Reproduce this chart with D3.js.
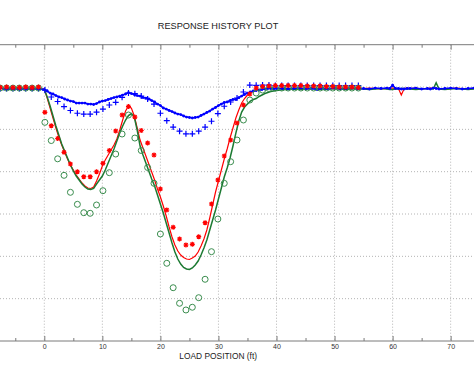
<!DOCTYPE html>
<html><head><meta charset="utf-8">
<script src="https://cdn.jsdelivr.net/npm/d3@7"></script>
<style>html,body{margin:0;padding:0;background:#fff;} svg{display:block;}</style>
</head><body><svg id="c" width="474" height="379"></svg>
<script>
// ---------- DATA ----------
const titleText = "RESPONSE HISTORY PLOT";
const xLabelText = "LOAD POSITION (ft)";
const xMajorTicks = [0,10,20,30,40,50,60,70];
const xMinorTicks = [-5,5,15,25,35,45,55,65];
const yGridValues = [-50,-40,-30,-20,-10,0];

// measured (dense) load positions, ft
const measX = [-7,-6,-5,-4,-3,-2,-1,
0,0.5,1,1.5,2,2.5,3,3.5,4,4.5,5,5.5,6,6.5,7,7.5,8,8.5,9,9.5,10,10.5,11,11.5,12,12.5,13,13.5,14,14.5,15,15.5,16,16.5,17,17.5,18,18.5,19,19.5,20,20.5,21,21.5,22,22.5,23,23.5,24,24.5,25,25.5,26,26.5,27,27.5,28,28.5,29,29.5,30,30.5,31,31.5,32,32.5,33,33.5,34,34.5,35,35.5,36,36.5,37,37.5,38,38.5,39,39.5,40,
41,42,43,44,45,46,47,48,49,50,51,52,53,54,55,56,57,58,59,59.5,60,60.5,61,61.5,62,62.5,63,64,65,66,66.5,67,67.5,68,69,70,71,72,73,74];

const measBlue = [-0.47,-0.35,-0.47,-0.59,-0.35,-0.47,-0.47,
-0.59,-0.94,-1.42,-1.65,-2.01,-2.36,-2.48,-2.83,-3.07,-3.31,-3.43,-3.78,-3.78,-3.78,-3.78,-4.02,-4.02,-4.13,-3.90,-3.54,-3.31,-3.19,-2.95,-2.72,-2.48,-2.36,-2.13,-1.89,-1.65,-1.30,-1.54,-1.77,-2.01,-2.13,-2.48,-2.60,-2.83,-3.19,-3.54,-4.02,-4.37,-4.96,-5.20,-5.55,-5.79,-6.14,-6.38,-6.50,-6.85,-7.09,-7.20,-7.32,-7.20,-7.09,-6.73,-6.38,-6.02,-5.67,-5.20,-4.84,-4.37,-4.02,-3.66,-3.54,-3.19,-2.95,-2.95,-2.48,-2.13,-1.77,-1.42,-1.18,-0.94,-0.83,-0.71,-0.59,-0.47,-0.35,-0.35,-0.47,-0.35,
-0.35,-0.47,-0.35,-0.24,-0.47,-0.35,-0.59,-0.35,-0.47,-0.24,-0.47,-0.35,-0.24,-0.47,-0.35,-0.47,-0.24,-0.35,-0.24,-0.35,0.47,-0.35,-0.35,-0.47,-0.47,-0.35,-0.35,-0.24,-0.47,-0.35,-0.47,-0.24,-0.35,-0.47,-0.35,-0.24,-0.35,-0.47,-0.35,-0.24];

const measRed = [-0.35,-0.24,-0.35,-0.24,-0.35,-0.24,-0.35,
-0.47,-2.60,-4.96,-7.32,-9.68,-11.81,-13.70,-15.35,-17.01,-18.42,-19.60,-20.79,-21.73,-22.68,-23.38,-23.86,-23.97,-23.62,-22.20,-20.55,-18.66,-17.24,-16.06,-14.88,-13.70,-12.29,-10.16,-7.80,-5.67,-4.49,-4.96,-6.85,-9.68,-12.52,-14.41,-16.30,-18.19,-20.08,-21.97,-24.09,-25.98,-28.11,-30.47,-33.07,-35.43,-37.32,-38.74,-39.68,-40.27,-40.63,-40.74,-40.39,-39.92,-38.97,-37.56,-35.90,-33.78,-30.94,-27.87,-24.80,-22.20,-19.60,-17.01,-14.64,-12.05,-9.68,-7.32,-5.43,-3.78,-2.72,-1.89,-1.42,-1.06,-0.83,-0.71,-0.59,-0.47,-0.35,-0.35,-0.24,-0.35,
-0.24,-0.35,-0.24,-0.35,-0.47,-0.24,-0.35,-0.24,-0.35,-0.47,-0.35,-0.24,-0.35,-0.47,-0.35,-0.24,-0.35,-0.47,-0.35,-0.24,-0.24,-0.35,-0.35,-1.89,-0.35,-0.24,-0.35,-0.24,-0.47,-0.35,-0.24,-0.24,-0.35,-0.35,-0.47,-0.35,-0.24,-0.35,-0.47,-0.35];

const measGreen = [-0.47,-0.59,-0.47,-0.35,-0.47,-0.59,-0.47,
-0.59,-2.36,-4.49,-6.85,-9.21,-11.34,-13.46,-15.12,-16.77,-18.42,-19.84,-21.02,-21.97,-22.91,-23.62,-24.09,-24.21,-23.97,-22.91,-21.97,-21.02,-19.60,-17.95,-16.30,-14.64,-12.76,-10.87,-9.21,-7.80,-6.73,-6.26,-7.09,-10.16,-13.94,-16.06,-17.95,-19.84,-21.73,-23.38,-25.51,-27.64,-29.76,-32.12,-34.49,-36.85,-38.97,-40.63,-41.81,-42.64,-42.99,-43.11,-42.75,-42.04,-41.10,-39.68,-38.03,-36.14,-33.78,-31.41,-29.05,-26.45,-23.86,-21.26,-19.13,-16.77,-13.94,-10.87,-8.03,-5.91,-4.72,-4.02,-3.31,-2.95,-2.72,-2.24,-1.89,-1.54,-1.30,-1.06,-0.94,-0.83,
-0.66,-0.54,-0.47,-0.59,-0.47,-0.35,-0.47,-0.59,-0.47,-0.35,-0.47,-0.59,-0.47,-0.35,-0.47,-0.59,-0.47,-0.35,-0.47,-0.59,-0.59,-0.47,-0.47,-0.35,-0.35,-0.47,-0.47,-0.59,-0.47,-0.35,-0.47,-0.47,1.02,-0.47,-0.59,-0.47,-0.35,-0.47,-0.59,-0.47];

// model (marker) load positions, ft
const markX = [-7.6,-6.5,-5.4,-4.3,-3.2,-2.1,-1.0,0.1,1.2,2.3,3.4,4.5,5.7,6.8,7.9,9.0,10.1,11.2,12.3,13.4,14.5,15.6,16.7,17.8,18.9,20.0,21.1,22.2,23.3,24.4,25.5,26.6,27.7,28.8,29.9,31.0,32.1,33.2,34.3,35.4,36.5,37.6,38.7,39.8,40.9,42.0,43.1,44.2,45.3,46.4,47.5,48.6,49.7,50.8,51.9,53.0,54.1];

const modelBlue = [-0.35,-0.35,-0.35,-0.35,-0.35,-0.35,-0.35,
-0.71,-2.36,-3.42,-4.61,-5.55,-6.19,-6.38,-6.38,-5.95,-5.20,
-4.25,-3.61,-2.43,-1.42,-1.58,-2.13,-2.83,-4.02,-6.19,-7.96,
-9.45,-10.44,-11.05,-11.05,-10.44,-9.45,-8.08,-6.26,-4.54,-3.54,
-2.60,-1.18,0.47,0.40,0.47,0.47,0.35,0.35,0.35,0.35,
0.35,0.35,0.35,0.35,0.35,0.35,0.35,0.35,0.35,0.35];

const modelGreen = [-0.24,-0.24,-0.24,-0.24,-0.24,-0.24,-0.24,
-8.34,-12.64,-16.96,-20.86,-24.87,-27.71,-29.69,-29.83,-27.87,-24.49,
-20.24,-15.83,-11.10,-6.61,-12.05,-15.00,-19.01,-22.75,-34.72,-41.64,
-47.41,-51.09,-52.67,-52.03,-49.77,-45.42,-38.90,-31.18,-22.75,-17.64,
-12.52,-7.79,-3.07,-1.42,-0.71,-0.35,-0.24,-0.24,-0.24,-0.24,
-0.24,-0.24,-0.24,-0.24,-0.24,-0.24,-0.24,-0.24,-0.24,-0.24];

const modelRed = [-0.12,0,-0.12,-0.12,0,-0.12,0,
-5.98,-9.14,-12.16,-15.42,-18.19,-20.01,-21.19,-21.19,-20.01,-18.02,
-15.00,-10.39,-6.61,-4.61,-7.09,-10.27,-13.23,-16.06,-24.09,-29.05,
-33.14,-35.90,-37.32,-37.15,-35.36,-32.05,-27.64,-21.97,-16.30,-12.52,
-8.50,-4.25,-1.65,-0.24,0.12,0.24,0.35,0.35,0.35,0.35,
0.35,0.24,0.24,0.24,0.12,0.12,0,0,0,-0.12];

// ---------- DRAW ----------
const W = 474, H = 379;
const x = d3.scaleLinear().domain([0, 70]).range([44.3, 450.65]);
const y = d3.scaleLinear().domain([-60, 10]).range([341, 44.7]);
const svg = d3.select("#c");
const FONT = "'Liberation Sans', Arial, Helvetica, sans-serif";

// grid
const grid = svg.append("g");
grid.selectAll("line.v").data(xMajorTicks).join("line")
  .attr("x1", d => x(d)).attr("x2", d => x(d))
  .attr("y1", y(10)).attr("y2", y(-60))
  .attr("stroke", "#b4b4b4").attr("stroke-width", 1).attr("stroke-dasharray", "1,2");
grid.selectAll("line.h").data(yGridValues).join("line")
  .attr("x1", 0).attr("x2", W)
  .attr("y1", d => y(d)).attr("y2", d => y(d))
  .attr("stroke", "#b4b4b4").attr("stroke-width", 1).attr("stroke-dasharray", "1,2");

// axes lines (frame continues past the visible area)
svg.append("line").attr("x1", 0).attr("x2", W).attr("y1", y(10)).attr("y2", y(10))
  .attr("stroke", "#7a7a7a").attr("stroke-width", 1);
svg.append("line").attr("x1", 0).attr("x2", W).attr("y1", y(-60)).attr("y2", y(-60))
  .attr("stroke", "#7a7a7a").attr("stroke-width", 1);

function styleAxis(g) {
  g.select(".domain").remove();
  g.selectAll(".tick line").attr("stroke", "#7a7a7a");
  g.selectAll(".tick text").attr("fill", "#333").attr("font-family", FONT).attr("font-size", 7);
}
svg.append("g").attr("transform", `translate(0,${y(-60)})`)
  .call(d3.axisBottom(x).tickValues(xMajorTicks).tickSize(-5).tickPadding(3).tickFormat(d3.format("d")))
  .call(styleAxis);
svg.append("g").attr("transform", `translate(0,${y(-60)})`)
  .call(d3.axisBottom(x).tickValues(xMinorTicks).tickSize(-3).tickFormat(""))
  .call(styleAxis);
svg.append("g").attr("transform", `translate(0,${y(10)})`)
  .call(d3.axisTop(x).tickValues(xMajorTicks).tickSize(-5).tickFormat(""))
  .call(styleAxis);
svg.append("g").attr("transform", `translate(0,${y(10)})`)
  .call(d3.axisTop(x).tickValues(xMinorTicks).tickSize(-3).tickFormat(""))
  .call(styleAxis);

// lines
const line = d3.line().x(d => x(d[0])).y(d => y(d[1]));
const zipM = arr => measX.map((v, i) => [v, arr[i]]);
const zipK = arr => markX.map((v, i) => [v, arr[i]]);

const RED = "#ff0000", BLUE = "#0000ff", GREEN_L = "#1c7a32", GREEN_M = "#3a8d4e";

svg.append("path").datum(zipM(measRed)).attr("d", line)
  .attr("fill", "none").attr("stroke", RED).attr("stroke-width", 1.2);
svg.append("path").datum(zipM(measGreen)).attr("d", line)
  .attr("fill", "none").attr("stroke", GREEN_L).attr("stroke-width", 1.5);
svg.append("path").datum(zipM(measBlue)).attr("d", line)
  .attr("fill", "none").attr("stroke", BLUE).attr("stroke-width", 1.6);
svg.append("g").selectAll("circle").data(zipM(measBlue)).join("circle")
  .attr("cx", d => x(d[0])).attr("cy", d => y(d[1])).attr("r", 1.4).attr("fill", BLUE);

// markers
const s = 3;
svg.append("g").selectAll("path").data(zipK(modelBlue)).join("path")
  .attr("transform", d => `translate(${x(d[0])},${y(d[1])})`)
  .attr("d", `M${-s},0H${s}M0,${-s}V${s}`)
  .attr("stroke", BLUE).attr("stroke-width", 1.2).attr("fill", "none");
svg.append("g").selectAll("circle").data(zipK(modelGreen)).join("circle")
  .attr("cx", d => x(d[0])).attr("cy", d => y(d[1])).attr("r", 3)
  .attr("stroke", GREEN_M).attr("stroke-width", 1).attr("fill", "none");
const a = 2.5, b = 1.8;
svg.append("g").selectAll("path").data(zipK(modelRed)).join("path")
  .attr("transform", d => `translate(${x(d[0])},${y(d[1])})`)
  .attr("d", `M${-a},0H${a}M0,${-a}V${a}M${-b},${-b}L${b},${b}M${-b},${b}L${b},${-b}`)
  .attr("stroke", RED).attr("stroke-width", 1.2).attr("fill", "none");

// titles
svg.append("text").attr("x", 218).attr("y", 29).attr("text-anchor", "middle")
  .attr("font-family", FONT).attr("font-size", 9.2).attr("fill", "#222").text(titleText);
svg.append("text").attr("x", 218.2).attr("y", 358.6).attr("text-anchor", "middle")
  .attr("font-family", FONT).attr("font-size", 8.4).attr("fill", "#222").text(xLabelText);
</script></body></html>
